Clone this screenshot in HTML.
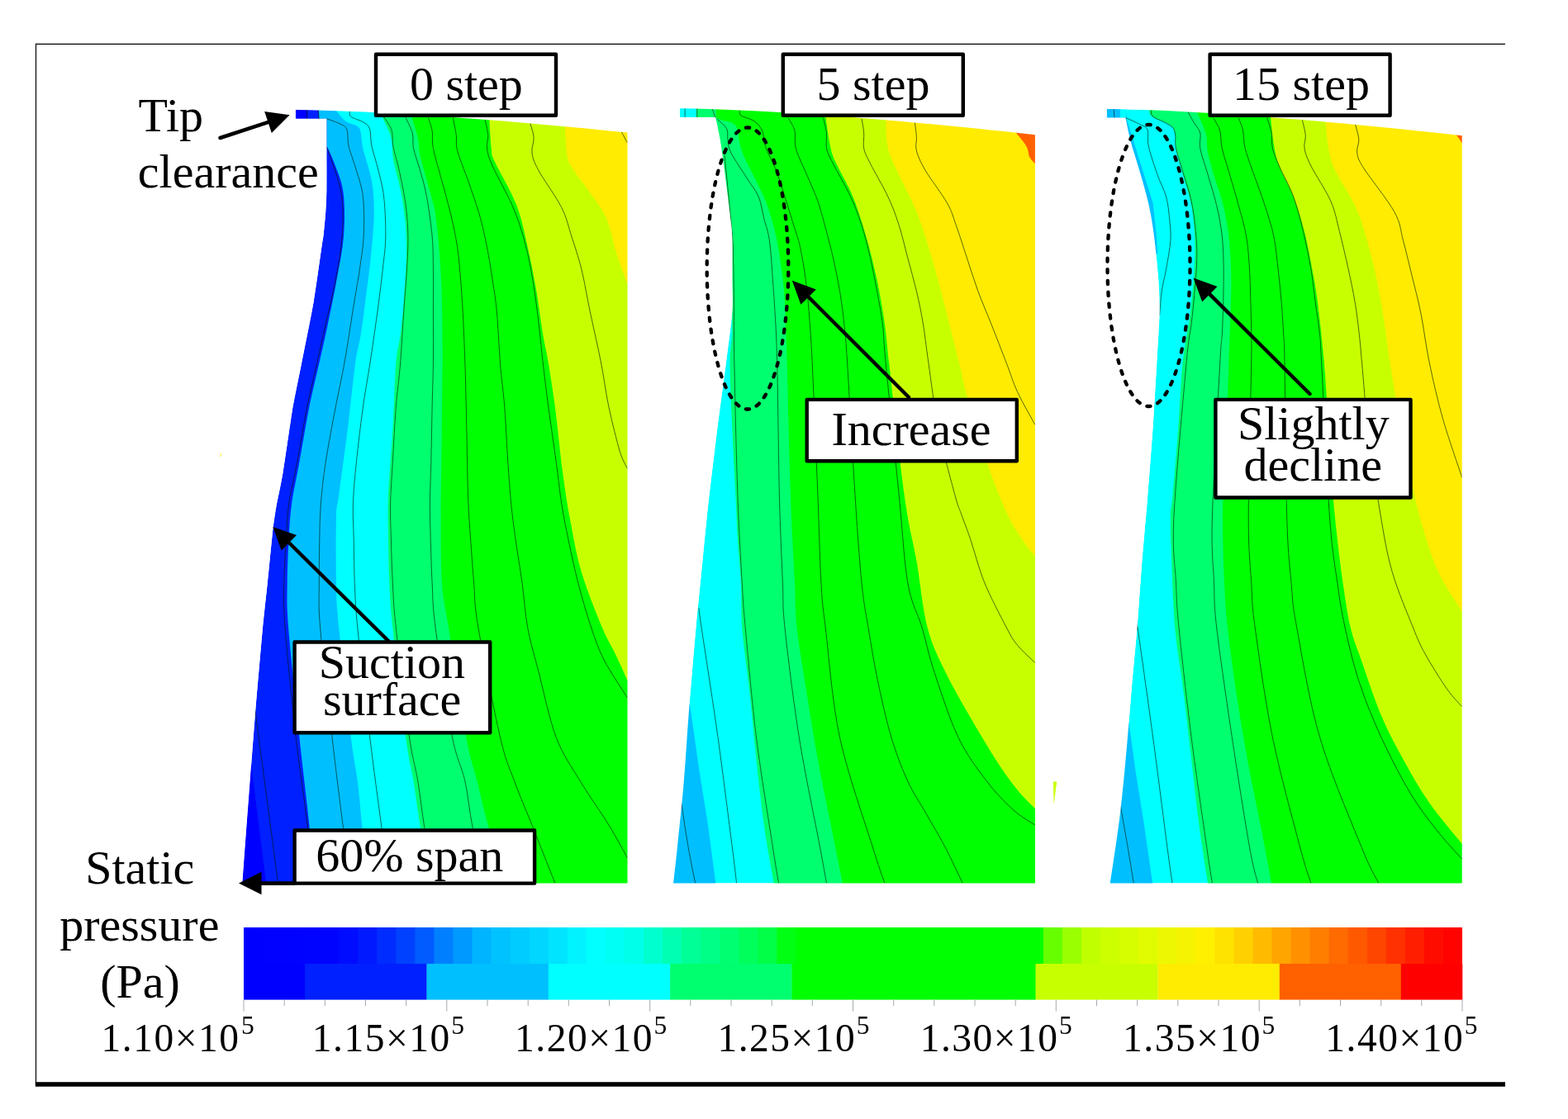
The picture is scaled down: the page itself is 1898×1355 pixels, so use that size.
<!DOCTYPE html>
<html lang="en"><head><meta charset="utf-8"><title>Static pressure contours</title>
<style>
html,body{margin:0;padding:0;background:#fff;}
body{width:1898px;height:1355px;overflow:hidden;position:relative;}
svg{position:absolute;left:0;top:0;display:block;}
text{font-family:"Liberation Serif", "DejaVu Serif", serif;fill:#000;}
.t57{font-size:58px;}
.t47{font-size:47.5px;letter-spacing:1.5px;}
.sup{font-size:31.5px;}
.box{fill:#fff;stroke:#000;stroke-width:4.4;stroke-linejoin:round;}
.arr{stroke:#000;stroke-width:4.4;stroke-linecap:round;fill:none;}
.ell{fill:none;stroke:#000;stroke-width:4.3;stroke-linecap:round;}
.iso{fill:none;stroke:#001a00;stroke-width:0.8;stroke-opacity:0.8;}
</style></head><body>
<svg width="1898" height="1355" viewBox="0 0 1898 1355">
<defs>
<mask id="c_p1" maskUnits="userSpaceOnUse" x="0" y="0" width="1898" height="1355"><path d="M357.8 133L374.5 133.2L391.3 133.7L408 134.2L424.8 134.9L441.5 135.6L458.2 136.4L475 137.3L491.7 138.3L508.4 139.3L525.2 140.4L541.9 141.6L558.6 142.8L575.4 144L592.1 145.3L608.9 146.6L625.6 148L642.3 149.5L659.1 150.9L675.8 152.4L692.5 154L709.3 155.6L726 157.2L742.8 158.9L759.5 160.6L759.5 1069.5L293.3 1069.5C293.8 1062.2 294.9 1046.3 296.5 1025.7C298.1 1005.1 300.4 974.8 302.6 946C304.8 917.2 307.2 884 309.8 853C312.4 822 315.7 784.5 318 760C320.3 735.5 321.7 725.8 323.8 705.7C325.9 685.6 328.7 654.8 330.5 639.3C332.3 623.8 332.5 623.8 334.5 612.7C336.5 601.6 339.1 592.7 342.4 572.8C345.7 552.9 350.6 515.2 354.4 493.1C358.2 471 360.8 461.2 365 440C369.2 418.8 375.6 389 379.6 365.7C383.6 342.4 387.2 313.7 389.2 300.1C391.2 286.6 390.8 291.6 391.6 284.4C392.4 277.2 393.6 265.7 394.2 256.7C394.8 247.7 395.1 249 395.3 230.2C395.5 211.4 395.3 158.2 395.3 143.8L395.6 143.8L357.8 143.8Z" fill="#fff"/></mask>
<mask id="c_p2" maskUnits="userSpaceOnUse" x="0" y="0" width="1898" height="1355"><path d="M823 131.3L840.9 131.6L858.8 132.1L876.7 132.7L894.6 133.5L912.6 134.3L930.5 135.3L948.4 136.3L966.3 137.4L984.2 138.6L1002.1 139.9L1020 141.2L1038 142.6L1055.9 144L1073.8 145.5L1091.7 147.1L1109.6 148.7L1127.5 150.3L1145.4 152L1163.3 153.8L1181.2 155.6L1199.2 157.4L1217.1 159.3L1235 161.2L1252.9 163.2L1252.9 1069.5L815.1 1069.5C815.9 1062.2 817.8 1046.3 819.9 1025.7C822 1005.1 825.4 974.8 827.8 946C830.2 917.2 832.1 884 834.5 853C836.9 822 839.8 789 842.4 760C845 731 848 703.6 850.4 679.1C852.8 654.6 854 639.3 857 612.7C860 586.1 864.6 548.5 868.2 519.7C871.8 490.9 875.8 463.4 878.8 440C881.8 416.6 885 395.8 886.3 379C887.6 362.2 886.5 354.6 886.5 339.1C886.5 323.6 886.8 299.3 886.3 286C885.8 272.7 885.1 272.7 883.6 259.4C882.1 246.1 879 221.4 877 206.3C875 191.2 873.5 179.7 871.7 169.1C869.9 158.5 867.2 146.9 866.3 142.5L866.3 142L823 142Z" fill="#fff"/></mask>
<mask id="c_p3" maskUnits="userSpaceOnUse" x="0" y="0" width="1898" height="1355"><path d="M1339.9 131.9L1357.8 132.2L1375.7 132.7L1393.6 133.3L1411.5 134.1L1429.4 135L1447.4 136L1465.3 137L1483.2 138.1L1501.1 139.3L1519 140.6L1536.9 142L1554.8 143.4L1572.7 144.8L1590.6 146.3L1608.5 147.9L1626.4 149.5L1644.3 151.2L1662.2 152.9L1680.2 154.7L1698.1 156.5L1716 158.4L1733.9 160.3L1751.8 162.3L1769.7 164.3L1769.7 1069.5L1343.8 1069.5C1345.8 1055.5 1352.5 1013 1355.8 985.8C1359.1 958.6 1361.4 932.7 1363.8 906.1C1366.2 879.5 1368.3 850.8 1370.4 826.4C1372.5 802 1374.5 784.5 1376.5 760C1378.5 735.5 1380.5 703.6 1382.4 679.1C1384.4 654.6 1386 639.3 1388.2 612.7C1390.4 586.1 1393.4 548.5 1395.4 519.7C1397.4 490.9 1398.8 463.4 1400.2 440C1401.6 416.6 1403.2 395.8 1403.6 379C1403.9 362.2 1403.4 354.6 1402.3 339.1C1401.2 323.6 1399 301.5 1397 286C1395 270.5 1393.1 259.4 1390.1 246.1C1387.1 232.8 1382.8 218.7 1379.2 206.3C1375.7 193.9 1371.6 182.3 1368.8 171.7C1366 161.1 1363.5 147.4 1362.4 142.5L1362.4 142.5L1339.9 142.5Z" fill="#fff"/></mask>
<linearGradient id="cb" gradientUnits="userSpaceOnUse" x1="295" y1="0" x2="1770" y2="0">
<stop offset="0.0000" stop-color="#0000ff"/>
<stop offset="0.0759" stop-color="#0004ff"/>
<stop offset="0.0929" stop-color="#0012ff"/>
<stop offset="0.1092" stop-color="#0020ff"/>
<stop offset="0.1200" stop-color="#0030ff"/>
<stop offset="0.1376" stop-color="#0048ff"/>
<stop offset="0.1505" stop-color="#0060ff"/>
<stop offset="0.1641" stop-color="#0080ff"/>
<stop offset="0.1783" stop-color="#0098ff"/>
<stop offset="0.1919" stop-color="#00b0ff"/>
<stop offset="0.2068" stop-color="#00c0ff"/>
<stop offset="0.2339" stop-color="#00d0ff"/>
<stop offset="0.2502" stop-color="#00dcff"/>
<stop offset="0.2692" stop-color="#00f0ff"/>
<stop offset="0.2881" stop-color="#00ffff"/>
<stop offset="0.3234" stop-color="#00ffe8"/>
<stop offset="0.3356" stop-color="#00ffd0"/>
<stop offset="0.3627" stop-color="#00ff9c"/>
<stop offset="0.3824" stop-color="#00ff88"/>
<stop offset="0.4102" stop-color="#00ff60"/>
<stop offset="0.4339" stop-color="#00ff40"/>
<stop offset="0.4502" stop-color="#00ff00"/>
<stop offset="0.6502" stop-color="#00ff00"/>
<stop offset="0.6542" stop-color="#40ff00"/>
<stop offset="0.6644" stop-color="#68ff00"/>
<stop offset="0.6814" stop-color="#a0ff00"/>
<stop offset="0.6949" stop-color="#c0ff00"/>
<stop offset="0.7220" stop-color="#d4ff00"/>
<stop offset="0.7444" stop-color="#e4fc00"/>
<stop offset="0.7695" stop-color="#f4f400"/>
<stop offset="0.7898" stop-color="#fff000"/>
<stop offset="0.8088" stop-color="#ffe000"/>
<stop offset="0.8210" stop-color="#ffd000"/>
<stop offset="0.8407" stop-color="#ffb400"/>
<stop offset="0.8610" stop-color="#ff9800"/>
<stop offset="0.8814" stop-color="#ff8000"/>
<stop offset="0.9037" stop-color="#ff6400"/>
<stop offset="0.9254" stop-color="#ff4c00"/>
<stop offset="0.9431" stop-color="#ff3400"/>
<stop offset="0.9627" stop-color="#ff1c00"/>
<stop offset="0.9797" stop-color="#ff0800"/>
<stop offset="1.0000" stop-color="#ff0000"/>
</linearGradient>
</defs>
<rect x="0" y="0" width="1898" height="1355" fill="#fff"/>
<line x1="43" y1="53.4" x2="1822" y2="53.4" stroke="#000" stroke-width="1.1"/>
<line x1="43.5" y1="52.8" x2="43.5" y2="1313" stroke="#000" stroke-width="1.2"/>
<line x1="42.8" y1="1313" x2="1822" y2="1313" stroke="#000" stroke-width="5.4"/>
<g mask="url(#c_p1)">
<polygon points="357.8,133 374.5,133.2 391.3,133.7 408,134.2 424.8,134.9 441.5,135.6 458.2,136.4 475,137.3 491.7,138.3 508.4,139.3 525.2,140.4 541.9,141.6 558.6,142.8 575.4,144 592.1,145.3 608.9,146.6 625.6,148 642.3,149.5 659.1,150.9 675.8,152.4 692.5,154 709.3,155.6 726,157.2 742.8,158.9 759.5,160.6 759.5,1069.5 293.3,1069.5 296.5,1025.7 302.6,946 309.8,853 318,760 323.8,705.7 330.5,639.3 334.5,612.7 342.4,572.8 354.4,493.1 365,440 379.6,365.7 389.2,300.1 391.6,284.4 394.2,256.7 395.3,230.2 395.3,143.8 395.3,143.8 395.6,143.8 357.8,143.8" fill="#0020ff"/>
<polygon points="293,1075 303.9,923.6 322.8,1075" fill="#0000ff"/>
<path d="M395.6 177C397.2 180.6 401.6 189 404.9 198.3C408.2 207.6 413.6 218.2 415.5 232.8C417.4 247.4 417.3 268.3 416 286C414.7 303.7 410.7 321.4 407.5 339.1C404.3 356.8 400.4 375.4 396.9 392.2C393.4 409 390.1 423.2 386.3 440C382.5 456.8 378.3 473.2 374.3 493.1C370.3 513 365.9 540.1 362.4 559.6C358.9 579.1 355.2 594.5 353.1 610C351 625.5 350.5 636.5 349.6 652.5C348.7 668.5 347.8 687.8 347.7 705.7C347.6 723.6 346.7 728.8 349.1 760C351.6 791.2 358.2 852.9 362.4 892.8C366.6 932.6 371.4 969.6 374.3 999.1C377.2 1028.5 378.7 1057.8 379.6 1069.5L379.6 1089.5L779.5 1089.5L779.5 93L395.6 93Z" fill="#00bfff"/>
<path d="M406.2 133.2C408.2 135.4 413.8 143.2 418.2 146.5C422.6 149.8 429.7 150.7 432.8 153.1C435.9 155.5 435.6 156.7 436.7 161.1C437.8 165.5 437.2 169.9 439.4 179.7C441.6 189.4 447.8 206.3 450 219.6C452.2 232.9 452.9 243.9 452.7 259.4C452.5 274.9 450.5 294.8 448.7 312.5C446.9 330.2 444.1 350.2 442.1 365.7C440.1 381.2 438.7 393.1 436.7 405.5C434.7 417.9 432.8 421 430.1 440C427.5 459 424.1 493.1 420.8 519.7C417.5 546.3 412.5 581.7 410.2 599.4C407.9 617.1 407.5 608.3 407 626C406.5 643.7 406.5 683.4 407 705.7C407.5 728 407.2 728.8 410.2 760C413.2 791.2 421 861.8 424.8 892.8C428.6 923.8 430.6 928.3 432.8 946C435 963.7 436.3 978.5 438.1 999.1C439.9 1019.7 442.5 1057.8 443.4 1069.5L443.4 1089.5L779.5 1089.5L779.5 93L406.2 93Z" fill="#00ffff"/>
<path d="M460.7 137.2C462.8 142.1 470.8 157.1 473.4 166.4C476 175.7 474.1 181.9 476.1 193C478.1 204.1 482.9 219.5 485.4 232.8C487.9 246.1 489.8 259.4 490.9 272.7C491.9 286 492.1 297 491.7 312.5C491.3 328 489.8 350.2 488.6 365.7C487.4 381.2 486.2 393.1 484.6 405.5C483.1 417.9 480.9 421 479.3 440C477.8 459 476.9 493.1 475.3 519.7C473.8 546.3 470.9 577.3 470 599.4C469.1 621.5 469.8 634.8 470 652.5C470.2 670.2 470.4 687.8 471.3 705.7C472.2 723.6 472 728.8 475.3 760C478.6 791.2 487 861.8 491.2 892.8C495.4 923.8 497.6 928.3 500.5 946C503.4 963.7 505.2 978.5 508.5 999.1C511.8 1019.7 518.4 1057.8 520.4 1069.5L520.4 1089.5L779.5 1089.5L779.5 93L460.7 93Z" fill="#00ff6e"/>
<path d="M497.9 139.9C499.2 144.3 504 158.4 505.8 166.4C507.6 174.4 506.3 177.5 508.5 187.7C510.7 197.9 516 215.6 519.1 227.5C522.2 239.4 524.9 245.2 527.1 259.4C529.3 273.6 531.1 294.8 532.4 312.5C533.7 330.2 534.5 344.4 535 365.7C535.5 386.9 535.7 409.9 535.6 440C535.5 470.1 534.8 515.3 534.5 546.3C534.2 577.3 533.6 599.4 533.7 626C533.8 652.6 533.5 683.4 535 705.7C536.5 728 538.1 728.8 543 760C547.9 791.2 558.5 861.8 564.3 892.8C570.1 923.8 573.2 928.3 577.6 946C582 963.7 585 978.5 590.8 999.1C596.5 1019.7 608.5 1057.8 612.1 1069.5L612.1 1089.5L779.5 1089.5L779.5 93L497.9 93Z" fill="#00ff00"/>
<path d="M592.2 142.5C592.6 148.7 593.7 170.8 594.8 179.7C595.9 188.5 593.7 184.1 598.8 195.6C603.9 207.1 618.8 231.5 625.4 248.8C632 266.1 634.7 282 638.7 299.3C642.7 316.6 646.2 334.7 649.3 352.4C652.4 370.1 654.9 390.9 657.3 405.5C659.7 420.1 661.5 425.4 663.9 440C666.3 454.6 669 471 671.9 493.1C674.8 515.2 678.1 549.8 681.2 572.8C684.3 595.8 686.7 611.4 690.5 631.3C694.3 651.2 697.4 670.9 703.8 692.4C710.2 713.9 722.1 743.4 729 760C735.9 776.6 739.8 781.3 744.9 791.9C750 802.5 757.1 818.5 759.5 823.8L779.5 823.8L779.5 93L592.2 93Z" fill="#c8ff00"/>
<path d="M683.8 150.5C684.2 156.7 684.7 178.4 686.5 187.7C688.3 197 687 194.4 694.5 206.3C702 218.2 723.1 243 731.6 259.4C740.1 275.8 741.3 291.7 745.5 304.6C749.7 317.5 754.6 330.6 756.9 337C759.2 343.4 759.1 342.1 759.5 343.1L779.5 343.1L779.5 93L683.8 93Z" fill="#ffec00"/>
<rect x="357.8" y="130.2" width="14.9" height="13.6" fill="#0000ff"/>
<rect x="372.2" y="130.2" width="14.3" height="13.6" fill="#0020ff"/>
<rect x="386" y="130.2" width="10.1" height="13.6" fill="#00bfff"/>
<path class="iso" d="M307.9 853C312.7 889.1 331.8 1033.4 336.6 1069.5"/>
<path class="iso" d="M395.8 178.4C398.6 187.5 409.7 214.9 412.8 232.8C415.9 250.7 415.3 268.3 414.2 286C413.1 303.7 409.5 321.4 406.2 339.1C402.9 356.8 398 375.4 394.2 392.2C390.4 409 387.4 423.2 383.6 440C379.9 456.8 375.7 473.2 371.7 493.1C367.7 513 363.4 540.1 359.7 559.6C356 579.1 351.8 594.5 349.6 610C347.4 625.5 347.4 636.5 346.4 652.5C345.4 668.5 344 687.8 343.8 705.7C343.6 723.6 342.8 729.6 345.1 760C347.4 790.4 353 847.4 357.6 887.8C362.2 928.2 369.1 972 372.5 1002.3C375.9 1032.6 377.3 1058.3 378.3 1069.5"/>
<path class="iso" d="M395.6 143.8C398.5 144.9 408.7 148.3 412.8 150.5C416.9 152.7 418.4 152.7 420 157.1C421.6 161.5 420.2 168.8 422.1 177C424 185.2 428.5 196.1 431.4 206.3C434.3 216.5 437.9 224.9 439.4 238.2C440.9 251.5 440.9 271.4 440.2 286C439.5 300.6 437.3 312.5 435.4 325.8C433.5 339.1 431.9 346.7 428.8 365.7C425.7 384.7 420.6 418.8 416.8 440C413 461.2 410 473.2 406.2 493.1C402.4 513 397.2 540.1 394.2 559.6C391.2 579.1 389.6 594.5 388.4 610C387.2 625.5 387.1 636.5 386.8 652.5C386.5 668.5 386.2 687.8 386.3 705.7C386.4 723.6 385 729.2 387.6 760C390.2 790.8 397.1 849.8 401.7 890.2C406.3 930.6 411.6 972.4 415.5 1002.3C419.4 1032.2 423.2 1058.3 424.8 1069.5"/>
<path class="iso" d="M423.5 134.5C423.7 135.6 422.2 139 424.8 141.2C427.4 143.4 435.6 145.4 439.4 147.8C443.2 150.2 445.6 150.9 447.4 155.8C449.2 160.7 448.2 168.6 450 177C451.8 185.4 455.6 196.1 458 206.3C460.4 216.5 463.1 224.9 464.6 238.2C466.1 251.5 467 271.4 466.8 286C466.6 300.6 465 310.3 463.3 325.8C461.6 341.3 459.3 360 456.7 379C454.1 398 450.8 421 447.9 440C445 459 442.1 473.2 439.4 493.1C436.6 513 433.4 540.1 431.4 559.6C429.4 579.1 427.9 594.5 427.4 610C426.9 625.5 427.9 636.5 428.2 652.5C428.5 668.5 428.5 687.8 429.3 705.7C430.1 723.6 429.8 729.2 432.8 760C435.8 790.8 442.5 849.8 447.4 890.2C452.3 930.6 458 972.4 462 1002.3C466 1032.2 469.8 1058.3 471.3 1069.5"/>
<path class="iso" d="M463.3 139.9C465.1 142.8 471.8 150.9 473.9 157.1C476 163.3 474.2 168.8 475.8 177C477.4 185.2 480.6 194.3 483.2 206.3C485.8 218.3 489.4 235.5 491.2 248.8C493 262.1 493.7 273.2 493.9 286C494.1 298.8 493.4 310.3 492.5 325.8C491.6 341.3 489.9 360 488.6 379C487.3 398 486.2 421 484.6 440C483.1 459 480.9 473.2 479.3 493.1C477.8 513 476.4 540.1 475.3 559.6C474.2 579.1 472.9 594.5 472.6 610C472.3 625.5 472.9 636.5 473.4 652.5C473.8 668.5 474.3 687.8 475.3 705.7C476.3 723.6 476 729.2 479.3 760C482.6 790.8 490.8 859.2 495.2 890.2C499.6 921.2 502.7 927.3 505.8 946C508.9 964.7 510.5 981.7 513.8 1002.3C517.1 1022.9 523.7 1058.3 525.7 1069.5"/>
<path class="iso" d="M489.9 139.9C491.4 143.4 497.4 154.5 499.2 161.1C501 167.7 498.9 172.2 500.5 179.7C502.1 187.2 505.8 196.6 508.5 206.3C511.2 216.1 514.1 224.9 516.5 238.2C518.9 251.5 521.8 271.4 523.1 286C524.4 300.6 524.2 310.3 524.4 325.8C524.6 341.3 524.4 360 524.4 379C524.4 398 524.6 421 524.4 440C524.2 459 523.5 473.2 523.1 493.1C522.7 513 522.2 540.1 521.8 559.6C521.3 579.1 520.5 594.5 520.4 610C520.3 625.5 520.8 636.5 521.2 652.5C521.7 668.5 522.1 687.8 523.1 705.7C524.1 723.6 523.1 729.2 527.1 760C531.1 790.8 541 859.2 547 890.2C553 921.2 558.7 927.3 562.9 946C567.1 964.7 567.8 981.7 572.2 1002.3C576.6 1022.9 586.6 1058.3 589.5 1069.5"/>
<path class="iso" d="M517.8 141.2C518.7 144.1 522 152 523.1 158.4C524.2 164.8 522.4 169.5 524.4 179.7C526.4 189.9 531.5 206.3 535 219.6C538.5 232.9 542.6 246.1 545.7 259.4C548.8 272.7 551.6 286 553.6 299.3C555.6 312.6 556.5 325.8 557.6 339.1C558.7 352.4 559.4 362.2 560.3 379C561.2 395.8 562.2 421 562.9 440C563.6 459 563.8 473.2 564.3 493.1C564.8 513 565.2 540.1 565.6 559.6C566 579.1 566.2 594.5 566.9 610C567.6 625.5 568.5 636.5 569.6 652.5C570.7 668.5 572.1 687.8 573.6 705.7C575.1 723.6 573.6 728.8 578.9 760C584.2 791.2 598.2 861.8 605.5 892.8C612.8 923.8 616.3 928.3 622.7 946C629.1 963.7 635.8 978.5 644 999.1C652.2 1019.7 667.2 1057.8 671.9 1069.5"/>
<path class="iso" d="M548.3 142.5C549 146.1 551.4 157.2 552.3 163.8C553.2 170.5 551.2 173.1 553.6 182.4C556 191.7 562.5 206.8 566.9 219.6C571.3 232.4 576.4 246.1 580.2 259.4C584 272.7 586.8 286 589.5 299.3C592.2 312.6 594.2 325.8 596.2 339.1C598.2 352.4 600 362.2 601.5 379C603 395.8 604 421 605.5 440C607 459 609.2 473.2 610.8 493.1C612.3 513 613.5 540.1 614.8 559.6C616.1 579.1 617.2 594.5 618.7 610C620.2 625.5 621.8 636.5 624 652.5C626.2 668.5 629.5 687.8 632 705.7C634.5 723.6 635.4 742.1 638.7 760C642 777.9 646.1 791 651.9 813.1C657.6 835.2 664.8 870.6 673.2 892.8C681.6 914.9 691.8 928.3 702.4 946C713 963.7 727.5 983.6 737 999.1C746.5 1014.6 755.8 1032.3 759.5 1039"/>
<path class="iso" d="M586.9 143.8C587.5 147.1 590.4 157.8 590.8 163.8C591.2 169.8 588.6 173.5 589.5 179.7C590.4 185.9 591.1 189.5 596.2 201C601.3 212.5 613.9 234.6 620.1 248.8C626.3 263 629.5 273.2 633.3 286C637 298.8 639.7 310.3 642.6 325.8C645.5 341.3 648.2 360 650.6 379C653 398 655.1 421 657.3 440C659.5 459 661.2 473.2 663.9 493.1C666.5 513 670.6 540.1 673.2 559.6C675.9 579.1 677.4 594.5 679.8 610C682.2 625.5 684.5 636.5 687.8 652.5C691.1 668.5 695.1 687.8 699.8 705.7C704.4 723.6 710.4 744.3 715.7 760C721 775.7 724.3 785.7 731.6 799.9C738.9 814.1 754.9 837.5 759.5 845"/>
<path class="iso" d="M641.3 147.8C642.1 150.9 645.6 160.2 646.1 166.4C646.6 172.6 643 178.3 644 185C645 191.7 645.9 195.2 651.9 206.3C657.9 217.4 673.1 238.1 679.8 251.4C686.4 264.7 687.8 273.6 691.8 286C695.8 298.4 700 310.3 703.8 325.8C707.6 341.3 710.6 360 714.6 379C718.6 398 724 421 727.7 440C731.4 459 733.2 475.4 737 493.1C740.8 510.8 746.5 533.9 750.2 546.3C754 558.7 758 564 759.5 567.5"/>
<path class="iso" d="M751.6 158.4C752.9 160.8 758.2 170.7 759.5 173.1"/>
<path class="iso" d="M371.7 129.2C371.7 131.9 371.7 142.5 371.7 145.2"/>
<path class="iso" d="M384.9 129.2C385.1 131.9 386.1 142.5 386.3 145.2"/>
</g>
<g mask="url(#c_p2)">
<polygon points="823,131.3 840.9,131.6 858.8,132.1 876.7,132.7 894.6,133.5 912.6,134.3 930.5,135.3 948.4,136.3 966.3,137.4 984.2,138.6 1002.1,139.9 1020,141.2 1038,142.6 1055.9,144 1073.8,145.5 1091.7,147.1 1109.6,148.7 1127.5,150.3 1145.4,152 1163.3,153.8 1181.2,155.6 1199.2,157.4 1217.1,159.3 1235,161.2 1252.9,163.2 1252.9,1069.5 815.1,1069.5 819.9,1025.7 827.8,946 834.5,853 842.4,760 850.4,679.1 857,612.7 868.2,519.7 878.8,440 886.3,379 886.5,339.1 886.3,286 883.6,259.4 877,206.3 871.7,169.1 866.3,142.5 866.3,142 823,142" fill="#00ffff"/>
<polygon points="800,850 835,853 846.4,932.7 857,999.1 866.3,1069.5 866.3,1080 800,1080" fill="#00bfff"/>
<path d="M862.4 126.6C865.5 153.2 877 241.7 881 286C885 330.3 885.9 366.5 886.3 392.2C886.7 417.9 883.6 418.8 883.6 440C883.6 461.2 885.2 493.1 886.3 519.7C887.4 546.3 889.2 577.3 890.3 599.4C891.4 621.5 891.8 634.8 892.9 652.5C894 670.2 896 687.8 896.9 705.7C897.8 723.6 896.4 737.7 898.2 760C900 782.3 904.6 813.1 907.5 839.7C910.4 866.3 912.6 892.8 915.5 919.4C918.4 946 921.3 974.1 924.8 999.1C928.3 1024.1 934.7 1057.8 936.7 1069.5L936.7 1089.5L1272.9 1089.5L1272.9 91.3L862.4 91.3Z" fill="#00ff6e"/>
<path d="M865 129.2C865.5 131.4 864.2 139.2 867.7 142.5C871.2 145.8 882.1 146.7 886.3 149.1C890.5 151.5 891.3 152.9 892.9 157.1C894.5 161.3 894 168.4 895.6 174.4C897.2 180.4 898.4 184.6 902.2 193C906 201.4 913.8 215.6 918.2 224.9C922.6 234.2 925.3 238.6 928.8 248.8C932.3 259 936.5 273.2 939.4 286C942.3 298.8 944.2 312.5 946 325.8C947.8 339.1 948.9 346.7 950 365.7C951.1 384.7 951.8 409.9 952.7 440C953.6 470.1 954.4 515.3 955.3 546.3C956.2 577.3 956.9 599.4 958 626C959.1 652.6 960.9 683.4 962 705.7C963.1 728 962.2 737.7 964.6 760C967 782.3 972.4 813.1 976.6 839.7C980.8 866.3 985 892.8 989.9 919.4C994.8 946 1000.8 974.1 1005.8 999.1C1010.8 1024.1 1017.5 1057.8 1019.9 1069.5L1019.9 1089.5L1272.9 1089.5L1272.9 91.3L865 91.3Z" fill="#00ff00"/>
<path d="M999.2 139.9C1000.1 145.7 1002.5 165.1 1004.5 174.4C1006.5 183.7 1006.5 185 1011.1 195.6C1015.8 206.2 1026.2 223.1 1032.4 238.2C1038.6 253.3 1043.4 269.2 1048.3 286C1053.2 302.8 1057.8 321.4 1061.6 339.1C1065.4 356.8 1068.5 375.4 1070.9 392.2C1073.3 409 1073.1 412.1 1076.2 440C1079.3 467.9 1085.7 528.6 1089.5 559.6C1093.3 590.6 1095.5 606.1 1098.8 626C1102.1 645.9 1105.4 656.8 1109.4 679.1C1113.4 701.4 1116.9 737.7 1122.7 760C1128.5 782.3 1135.6 795.4 1144 813.1C1152.4 830.8 1163 848.6 1173.2 866.3C1183.4 884 1195.4 904.3 1205.1 919.4C1214.8 934.5 1223.6 946.6 1231.6 956.6C1239.6 966.6 1249.4 975.4 1252.9 979.2L1272.9 979.2L1272.9 91.3L999.2 91.3Z" fill="#c8ff00"/>
<path d="M1072.2 143.8C1072.7 149.8 1072.2 168.4 1074.9 179.7C1077.6 191 1082.2 198.3 1088.2 211.6C1094.2 224.9 1104.2 242.6 1110.8 259.4C1117.4 276.2 1122.7 294.8 1128 312.5C1133.3 330.2 1136.9 344.4 1142.4 365.7C1147.9 386.9 1156.5 421 1161.2 440C1165.9 459 1165 460 1170.5 479.9C1176 499.8 1186.5 536.1 1194.5 559.6C1202.5 583.1 1211.3 605.2 1218.4 620.7C1225.5 636.2 1231.2 643.6 1237 652.5C1242.8 661.4 1250.2 670.2 1252.9 673.8L1272.9 673.8L1272.9 91.3L1072.2 91.3Z" fill="#ffec00"/>
<path d="M1229 159.8C1231.2 162.7 1239.4 171.9 1242.3 177C1245.2 182.1 1244.5 186.8 1246.3 190.3C1248.1 193.9 1251.8 197 1252.9 198.3L1272.9 198.3L1272.9 91.3L1229 91.3Z" fill="#ff6000"/>
<rect x="823" y="128.3" width="20.4" height="13.7" fill="#00ffff"/>
<rect x="842.9" y="128.3" width="23.9" height="13.7" fill="#00ff6e"/>
<path class="iso" d="M823.8 965.9C825.3 975.9 830.1 1008.4 833.1 1025.7C836.1 1043 840.2 1062.2 841.6 1069.5"/>
<path class="iso" d="M845.9 736.2C846.4 740.2 845.2 733.9 849.1 760C853 786.1 862.8 848.5 869 892.8C875.2 937.1 882.5 996.2 886.3 1025.7C890.1 1055.2 890.7 1062.2 891.6 1069.5"/>
<path class="iso" d="M877 187.7C878.5 203.6 884.5 262.5 886.3 283.3C888.1 304.1 887.2 298.8 887.6 312.5C888 326.2 888.2 344.4 888.4 365.7C888.6 386.9 888.1 401.1 888.9 440C889.6 478.9 891.3 555.1 892.9 599.4C894.5 643.7 896.7 678.9 898.2 705.7C899.8 732.5 899.3 728.8 902.2 760C905.1 791.2 910 848.5 915.5 892.8C921 937.1 930.9 996.2 935.4 1025.7C939.9 1055.2 941.4 1062.2 942.6 1069.5"/>
<path class="iso" d="M867.7 143.8C869.7 145.8 877.4 151.6 879.6 155.8C881.8 160 880.1 164.2 881 169.1C881.9 174 880.9 177 884.9 185C888.9 193 899.3 208 904.9 216.9C910.5 225.8 914.9 230.2 918.2 238.2C921.5 246.2 922.6 255.8 924.8 264.7C927 273.6 929.6 278.9 931.4 291.3C933.2 303.7 934.3 324.5 935.4 339.1C936.5 353.7 937.2 362.2 938.1 379C939 395.8 939.8 403.3 940.7 440C941.6 476.7 942.3 555.1 943.4 599.4C944.5 643.7 946.3 678.9 947.4 705.7C948.5 732.5 946.7 728.8 950 760C953.3 791.2 960.2 848.5 967.3 892.8C974.4 937.1 987 996.2 992.5 1025.7C998 1055.2 999.2 1062.2 1000.5 1069.5"/>
<path class="iso" d="M895.6 133.2C895.8 134.3 894 137.7 896.9 139.9C899.8 142.1 908.6 143.6 912.8 146.5C917 149.4 920.1 153.3 922.1 157.1C924.1 160.9 923.9 165.3 924.8 169.1C925.7 172.9 925 173.5 927.4 179.7C929.8 185.9 935.6 196.6 939.4 206.3C943.2 216.1 946.5 227.1 950 238.2C953.5 249.3 957.6 262.5 960.7 272.7C963.8 282.9 966.2 288.2 968.6 299.3C971 310.4 973.5 325.8 975.3 339.1C977.1 352.4 978 362.2 979.3 379C980.6 395.8 981.4 403.3 983.2 440C985 476.7 988.1 555.1 989.9 599.4C991.7 643.7 992.3 678.9 993.9 705.7C995.5 732.5 995.4 728.8 999.2 760C1003 791.2 1007 848.5 1016.5 892.8C1026 937.1 1047.2 996.2 1056.3 1025.7C1065.4 1055.2 1068.5 1062.2 1070.9 1069.5"/>
<path class="iso" d="M954 142.5C955.3 145.2 960.5 152.2 962 158.4C963.5 164.6 960.9 170.8 963.3 179.7C965.7 188.6 972.2 201 976.6 211.6C981 222.2 985.9 232 989.9 243.5C993.9 255 997.4 269.2 1000.5 280.7C1003.6 292.2 1005.8 300.6 1008.5 312.5C1011.2 324.4 1014.3 339.1 1016.5 352.4C1018.7 365.7 1020.3 377.6 1021.8 392.2C1023.3 406.8 1023.5 405.5 1025.7 440C1027.9 474.5 1032.1 555.1 1035 599.4C1037.9 643.7 1040.3 678.9 1043 705.7C1045.7 732.5 1047.7 739.9 1051 760C1054.3 780.1 1058.2 804.3 1062.9 826.4C1067.6 848.5 1072.9 872.9 1078.9 892.8C1084.9 912.7 1091.7 930.5 1098.8 946C1105.9 961.5 1113.9 972.5 1121.4 985.8C1128.9 999.1 1136.7 1011.8 1144 1025.7C1151.3 1039.7 1161.7 1062.2 1165.2 1069.5"/>
<path class="iso" d="M996.5 142.5C997.2 145.6 999.8 154.9 1000.5 161.1C1001.2 167.3 999.2 173.5 1000.5 179.7C1001.8 185.9 1003.6 188.6 1008.5 198.3C1013.4 208.1 1024 225.8 1029.7 238.2C1035.5 250.6 1039 260.3 1043 272.7C1047 285.1 1050.5 299.2 1053.6 312.5C1056.7 325.8 1059.1 339.1 1061.6 352.4C1064 365.7 1066.5 377.6 1068.3 392.2C1070.1 406.8 1068.9 405.5 1072.2 440C1075.5 474.5 1083.8 555.1 1088.2 599.4C1092.6 643.7 1094.2 678.9 1098.8 705.7C1103.4 732.5 1110.8 742.1 1116.1 760C1121.4 777.9 1123.4 791 1130.7 813.1C1138 835.2 1149.3 870.6 1159.9 892.8C1170.5 914.9 1183.4 931.4 1194.5 946C1205.6 960.6 1216.6 971.6 1226.3 980.5C1236 989.4 1248.5 996 1252.9 999.1"/>
<path class="iso" d="M1043 143.8C1043.5 146.7 1045.2 155.1 1045.7 161.1C1046.2 167.1 1044.4 173.5 1045.7 179.7C1047 185.9 1048.7 188.6 1053.6 198.3C1058.5 208.1 1069.1 225.8 1074.9 238.2C1080.7 250.6 1084.2 260.3 1088.2 272.7C1092.2 285.1 1095.3 299.2 1098.8 312.5C1102.3 325.8 1106.3 339.1 1109.4 352.4C1112.5 365.7 1115 377.6 1117.4 392.2C1119.8 406.8 1120.9 418.8 1124 440C1127.1 461.2 1130.7 493.1 1136 519.7C1141.3 546.3 1151.2 582.1 1155.9 599.4C1160.6 616.7 1160.8 614.4 1163.9 623.3C1167 632.1 1169.8 638.8 1174.5 652.5C1179.2 666.2 1184.5 687.8 1191.8 705.7C1199.1 723.6 1211.8 747.4 1218.4 760C1225 772.6 1225.8 774.2 1231.6 781.3C1237.3 788.4 1249.4 799 1252.9 802.5"/>
<path class="iso" d="M1107.3 147.8C1107.7 150.9 1109.1 160.6 1109.4 166.4C1109.8 172.2 1107.6 175.8 1109.4 182.4C1111.2 189.1 1113.9 195.7 1120.1 206.3C1126.3 216.9 1140.4 235 1146.6 246.1C1152.8 257.2 1153.3 261.6 1157.3 272.7C1161.3 283.8 1166.1 299.2 1170.5 312.5C1174.9 325.8 1178.9 339.1 1183.8 352.4C1188.7 365.7 1194 377.6 1199.8 392.2C1205.6 406.8 1213.1 426.3 1218.4 440C1223.7 453.7 1225.8 462.1 1231.6 474.5C1237.3 486.9 1249.4 507.8 1252.9 514.4"/>
<path class="iso" d="M829.1 127.9C829.1 130.6 829.1 141.2 829.1 143.8"/>
<path class="iso" d="M843.8 127.9C843.8 130.6 843.8 141.2 843.8 143.8"/>
<path class="iso" d="M861 127.9C861.9 130.6 865.4 141.2 866.3 143.8"/>
</g>
<g mask="url(#c_p3)">
<polygon points="1339.9,131.9 1357.8,132.2 1375.7,132.7 1393.6,133.3 1411.5,134.1 1429.4,135 1447.4,136 1465.3,137 1483.2,138.1 1501.1,139.3 1519,140.6 1536.9,142 1554.8,143.4 1572.7,144.8 1590.6,146.3 1608.5,147.9 1626.4,149.5 1644.3,151.2 1662.2,152.9 1680.2,154.7 1698.1,156.5 1716,158.4 1733.9,160.3 1751.8,162.3 1769.7,164.3 1769.7,1069.5 1343.8,1069.5 1355.8,985.8 1363.8,906.1 1370.4,826.4 1376.5,760 1382.4,679.1 1388.2,612.7 1395.4,519.7 1400.2,440 1403.6,379 1402.3,339.1 1397,286 1390.1,246.1 1379.2,206.3 1368.8,171.7 1362.4,142.5 1362.4,142.5 1339.9,142.5" fill="#00ffff"/>
<polygon points="1320,870 1366.4,874.2 1374.4,932.7 1385,999.1 1395.1,1069.5 1395,1080 1320,1080" fill="#00bfff"/>
<polygon points="1330,120 1362.4,129.2 1363.8,143.8 1372.3,171.7 1383.2,206.3 1395.6,246.1 1399.9,286 1401.2,307.2 1390.3,307.2" fill="#00bfff"/>
<path d="M1390.3 129.2C1390.8 131 1390.3 137 1393 139.9C1395.7 142.8 1402.1 144.3 1406.3 146.5C1410.5 148.7 1415.5 150.2 1418.2 153.1C1420.9 156 1421.8 159.4 1422.7 163.8C1423.6 168.2 1421.8 171.3 1423.5 179.7C1425.2 188.1 1429.7 202.7 1432.8 214.2C1435.9 225.7 1439.9 236.8 1442.1 248.8C1444.3 260.8 1445.5 273.2 1446.1 286C1446.7 298.8 1446.5 310.3 1445.6 325.8C1444.7 341.3 1443.1 360 1440.8 379C1438.5 398 1433.9 416.6 1431.5 440C1429.1 463.4 1428.2 493.1 1426.2 519.7C1424.2 546.3 1421.1 581.7 1419.6 599.4C1418 617.1 1417.1 612.7 1416.9 626C1416.7 639.3 1417.3 656.8 1418.2 679.1C1419.1 701.4 1419.8 733.2 1422.2 760C1424.6 786.8 1429.5 813.1 1432.8 839.7C1436.1 866.3 1439 892.8 1442.1 919.4C1445.2 946 1448.1 974.1 1451.4 999.1C1454.7 1024.1 1460.3 1057.8 1462.1 1069.5L1462.1 1089.5L1789.7 1089.5L1789.7 91.9L1390.3 91.9Z" fill="#00ff6e"/>
<path d="M1447.4 131.9C1449.4 136.8 1457 152.2 1459.4 161.1C1461.9 169.9 1460.3 176.2 1462.1 185C1463.9 193.8 1466.9 203.6 1470 214.2C1473.1 224.8 1477.8 236.8 1480.7 248.8C1483.6 260.8 1485.8 273.2 1487.3 286C1488.8 298.8 1489.5 312.5 1490 325.8C1490.5 339.1 1490.5 346.7 1490 365.7C1489.5 384.7 1488.2 414.3 1487.3 440C1486.4 465.7 1485.7 493.1 1484.6 519.7C1483.5 546.3 1481.5 579.5 1480.7 599.4C1480 619.3 1479.9 621.6 1480.1 639.3C1480.3 657 1481 685.6 1482 705.7C1483 725.8 1483.6 737.7 1486 760C1488.4 782.3 1492.6 813.1 1496.6 839.7C1500.6 866.3 1505 892.8 1509.9 919.4C1514.8 946 1520.9 974.1 1525.8 999.1C1530.7 1024.1 1536.9 1057.8 1539.1 1069.5L1539.1 1089.5L1789.7 1089.5L1789.7 91.9L1447.4 91.9Z" fill="#00ff00"/>
<path d="M1537.8 139.9C1538.5 145.7 1540 164.2 1541.8 174.4C1543.6 184.6 1544.4 190.4 1548.4 201C1552.4 211.6 1560.6 224.9 1565.7 238.2C1570.8 251.5 1575.2 266.1 1579 280.7C1582.8 295.3 1585.6 311.6 1588.3 325.8C1591 340 1592.5 346.7 1594.9 365.7C1597.3 384.7 1600.7 414.3 1602.9 440C1605.1 465.7 1606.4 493.1 1608.2 519.7C1610 546.3 1611.7 577.3 1613.5 599.4C1615.3 621.5 1616.8 634.8 1618.8 652.5C1620.8 670.2 1622.8 687.8 1625.5 705.7C1628.2 723.6 1631 744.3 1634.8 760C1638.5 775.7 1641.8 782.2 1648 799.9C1654.2 817.6 1663.5 846.4 1671.9 866.3C1680.3 886.2 1688.8 901.7 1698.5 919.4C1708.2 937.1 1718.5 955.5 1730.4 972.5C1742.3 989.5 1763.2 1013.5 1769.7 1021.7L1789.7 1021.7L1789.7 91.9L1537.8 91.9Z" fill="#c8ff00"/>
<path d="M1604.2 142.5C1604.9 148.7 1606.2 169.1 1608.2 179.7C1610.2 190.3 1610.9 194.8 1616.2 206.3C1621.5 217.8 1633.9 235.5 1640.1 248.8C1646.3 262.1 1648.9 270.9 1653.3 286C1657.7 301.1 1662.8 321.4 1666.6 339.1C1670.4 356.8 1673.2 375.4 1675.9 392.2C1678.6 409 1679.3 418.8 1682.6 440C1685.9 461.2 1691.5 495.4 1695.9 519.7C1700.3 544.1 1704.7 566.2 1709.1 586.1C1713.5 606 1717.1 621.6 1722.4 639.3C1727.7 657 1733.1 675.6 1741 692.4C1748.9 709.2 1764.9 732.2 1769.7 740.2L1789.7 740.2L1789.7 91.9L1604.2 91.9Z" fill="#ffec00"/>
<path d="M1762.3 162.4C1763.5 164.2 1768.5 171.3 1769.7 173.1L1789.7 173.1L1789.7 91.9L1762.3 91.9Z" fill="#ff6000"/>
<rect x="1339.9" y="128.9" width="16.4" height="13.6" fill="#00bfff"/>
<rect x="1355.8" y="128.9" width="7.1" height="13.6" fill="#00ffff"/>
<path class="iso" d="M1355.8 972.5C1357.3 981.4 1362.3 1009.5 1365.1 1025.7C1367.8 1041.9 1371.1 1062.2 1372.3 1069.5"/>
<path class="iso" d="M1376.5 762.8C1376.6 762.3 1373.8 738.3 1377 760C1380.2 781.7 1389.6 848.5 1395.6 892.8C1401.6 937.1 1409 996.2 1412.9 1025.7C1416.8 1055.2 1418 1062.2 1419 1069.5"/>
<path class="iso" d="M1362.4 142.5C1365.3 143.8 1375.3 148.1 1379.7 150.5C1384.1 152.9 1387.2 152.7 1389 157.1C1390.8 161.5 1388.3 167.9 1390.3 177C1392.3 186.1 1397.5 201.4 1401 211.6C1404.5 221.8 1409.2 229.3 1411.6 238.2C1414 247 1414.7 255.8 1415.6 264.7C1416.5 273.6 1417.6 281.1 1416.9 291.3C1416.2 301.5 1413.4 315.6 1411.6 325.8C1409.8 336 1407.6 343.1 1406.3 352.4C1405 361.7 1404 376.7 1403.6 381.6"/>
<path class="iso" d="M1393 133.2C1393.4 134.5 1392.9 138.8 1395.6 141.2C1398.2 143.6 1404.9 145.6 1408.9 147.8C1412.9 150 1417.3 151.8 1419.6 154.5C1421.9 157.2 1422 159.6 1422.7 163.8C1423.4 168 1421.8 171.7 1423.5 179.7C1425.2 187.7 1429.7 201 1432.8 211.6C1435.9 222.2 1439.7 232 1442.1 243.5C1444.5 255 1446.3 269.2 1447.4 280.7C1448.5 292.2 1449 300.6 1448.8 312.5C1448.6 324.4 1447.2 339.1 1446.1 352.4C1445 365.7 1443.8 377.6 1442.1 392.2C1440.4 406.8 1439.5 401 1436 440C1432.5 479 1423 581.7 1420.9 626C1418.8 670.3 1422.5 683.4 1423.5 705.7C1424.5 728 1423.9 728.8 1427 760C1430.1 791.2 1436.5 848.5 1442.1 892.8C1447.7 937.1 1456.5 996.2 1460.7 1025.7C1464.9 1055.2 1466.3 1062.2 1467.4 1069.5"/>
<path class="iso" d="M1438.2 135.9C1439.3 137.9 1442.4 143.6 1444.8 147.8C1447.2 152 1451.5 155.8 1452.8 161.1C1454.1 166.4 1451.2 171.3 1452.8 179.7C1454.3 188.1 1458.8 200.1 1462.1 211.6C1465.4 223.1 1469.8 236.4 1472.7 248.8C1475.6 261.2 1477.9 273.2 1479.3 286C1480.7 298.8 1481 312.5 1481.2 325.8C1481.4 339.1 1481 352.4 1480.7 365.7C1480.4 379 1480 393.1 1479.3 405.5C1478.6 417.9 1478.7 403.2 1476.7 440C1474.7 476.8 1468.6 581.7 1467.4 626C1466.2 670.3 1468.6 683.4 1469.5 705.7C1470.4 728 1469.1 728.8 1472.7 760C1476.3 791.2 1484.7 848.5 1491.3 892.8C1497.9 937.1 1507.3 996.2 1512.5 1025.7C1517.7 1055.2 1520.9 1062.2 1522.6 1069.5"/>
<path class="iso" d="M1468.7 142.5C1470 145.2 1474.9 152.2 1476.7 158.4C1478.5 164.6 1477.3 170.8 1479.3 179.7C1481.3 188.6 1485.3 200.1 1488.6 211.6C1491.9 223.1 1496 236.4 1499.3 248.8C1502.6 261.2 1506.4 273.2 1508.6 286C1510.8 298.8 1511.6 312.5 1512.5 325.8C1513.4 339.1 1513.5 352.4 1513.9 365.7C1514.3 379 1514.6 393.1 1514.7 405.5C1514.8 417.9 1515.3 403.2 1514.7 440C1514.1 476.8 1511.2 581.7 1511.2 626C1511.2 670.3 1513.4 683.4 1514.7 705.7C1516 728 1514.9 728.8 1519.2 760C1523.5 791.2 1531.3 848.5 1540.4 892.8C1549.5 937.1 1565.8 996.2 1573.6 1025.7C1581.3 1055.2 1584.7 1062.2 1586.9 1069.5"/>
<path class="iso" d="M1499.3 142.5C1500.2 145.2 1503.3 152.2 1504.6 158.4C1505.9 164.6 1505 170.8 1507.2 179.7C1509.4 188.6 1513.9 200.1 1517.9 211.6C1521.9 223.1 1527.1 236.4 1531.1 248.8C1535.1 261.2 1539.1 273.2 1541.8 286C1544.5 298.8 1545.5 312.5 1547.1 325.8C1548.6 339.1 1550 352.4 1551.1 365.7C1552.2 379 1553 393.1 1553.7 405.5C1554.4 417.9 1554.3 403.2 1555 440C1555.7 476.8 1556.4 581.7 1557.7 626C1559 670.3 1561 683.4 1563 705.7C1565 728 1563.9 728.8 1569.7 760C1575.5 791.2 1584.5 848.5 1597.6 892.8C1610.6 937.1 1636.1 996.2 1648 1025.7C1659.9 1055.2 1665.3 1062.2 1668.8 1069.5"/>
<path class="iso" d="M1533.8 142.5C1534.7 145.6 1538 154.9 1539.1 161.1C1540.2 167.3 1538.9 173 1540.4 179.7C1542 186.3 1544.2 191.2 1548.4 201C1552.6 210.8 1560.8 224.9 1565.7 238.2C1570.6 251.5 1574.1 266.1 1577.6 280.7C1581.1 295.3 1584.5 311.6 1586.9 325.8C1589.3 340 1590.4 352.4 1592.2 365.7C1594 379 1596.3 393.1 1597.6 405.5C1598.8 417.9 1597.7 403.2 1599.7 440C1601.7 476.8 1606.3 581.7 1609.5 626C1612.7 670.3 1615.7 683.4 1618.8 705.7C1621.9 728 1623.7 739.9 1628.1 760C1632.5 780.1 1638.1 804.3 1645.4 826.4C1652.7 848.5 1661.7 870.6 1671.9 892.8C1682.1 914.9 1695.4 940.7 1706.5 959.3C1717.6 977.9 1727.9 990.9 1738.4 1004.4C1748.9 1017.9 1764.5 1034.3 1769.7 1040.3"/>
<path class="iso" d="M1576.3 145.2C1577 148.3 1579.8 158.1 1580.3 163.8C1580.8 169.6 1577.9 173.5 1579 179.7C1580.1 185.9 1581.6 190.4 1586.9 201C1592.2 211.6 1605 230.2 1610.8 243.5C1616.6 256.8 1618 267 1621.5 280.7C1625 294.4 1629 311.6 1632.1 325.8C1635.2 340 1637.9 352.4 1640.1 365.7C1642.3 379 1644 393.1 1645.4 405.5C1646.8 417.9 1646.8 421 1648.6 440C1650.4 459 1652.3 489.6 1656 519.7C1659.7 549.8 1665.7 591.9 1670.6 620.7C1675.5 649.5 1678.5 669.2 1685.2 692.4C1691.9 715.6 1703.8 743.4 1710.5 760C1717.2 776.6 1718.2 779.5 1725.1 791.9C1731.9 804.3 1744.2 823.8 1751.6 834.4C1759 845 1766.7 852.1 1769.7 855.6"/>
<path class="iso" d="M1640.1 149.1C1640.9 152.4 1644.4 163.1 1644.8 169.1C1645.2 175.1 1641.7 179.2 1642.7 185C1643.7 190.8 1643.2 191.7 1650.7 203.6C1658.2 215.5 1679.9 242.1 1687.9 256.7C1695.9 271.3 1695 278.4 1698.5 291.3C1702 304.2 1705.5 319.2 1709.1 333.8C1712.6 348.4 1716.2 361.3 1719.8 379C1723.3 396.7 1726 418.8 1730.4 440C1734.8 461.2 1739.8 483.4 1746.3 506.4C1752.8 529.4 1765.8 566.2 1769.7 578.2"/>
<path class="iso" d="M1347.8 127.9C1348 130.6 1348.9 141.2 1349.1 143.8"/>
</g>
<polygon points="1275,946.5 1279.2,946.5 1275.5,974.5" fill="#c8ff00"/>
<rect x="266.5" y="549" width="1.5" height="4" fill="#ffe84a" opacity="0.8"/>
<rect x="295" y="1123" width="1475" height="44.5" fill="url(#cb)"/>
<rect x="295" y="1123" width="23.4" height="44.3" fill="#0000ff"/>
<rect x="318" y="1123" width="23.4" height="44.3" fill="#0001ff"/>
<rect x="341.1" y="1123" width="23.4" height="44.3" fill="#0002ff"/>
<rect x="364.1" y="1123" width="23.4" height="44.3" fill="#0003ff"/>
<rect x="387.2" y="1123" width="23.4" height="44.3" fill="#0004ff"/>
<rect x="410.2" y="1123" width="23.4" height="44.3" fill="#000cff"/>
<rect x="433.3" y="1123" width="23.4" height="44.3" fill="#0019ff"/>
<rect x="456.3" y="1123" width="23.4" height="44.3" fill="#002cff"/>
<rect x="479.4" y="1123" width="23.4" height="44.3" fill="#0041ff"/>
<rect x="502.4" y="1123" width="23.4" height="44.3" fill="#005cff"/>
<rect x="525.5" y="1123" width="23.4" height="44.3" fill="#0080ff"/>
<rect x="548.5" y="1123" width="23.4" height="44.3" fill="#009aff"/>
<rect x="571.6" y="1123" width="23.4" height="44.3" fill="#00b4ff"/>
<rect x="594.6" y="1123" width="23.4" height="44.3" fill="#00c2ff"/>
<rect x="617.7" y="1123" width="23.4" height="44.3" fill="#00ccff"/>
<rect x="640.7" y="1123" width="23.4" height="44.3" fill="#00d6ff"/>
<rect x="663.8" y="1123" width="23.4" height="44.3" fill="#00e4ff"/>
<rect x="686.8" y="1123" width="23.4" height="44.3" fill="#00f3ff"/>
<rect x="709.8" y="1123" width="23.4" height="44.3" fill="#00fffe"/>
<rect x="732.9" y="1123" width="23.4" height="44.3" fill="#00fff4"/>
<rect x="755.9" y="1123" width="23.4" height="44.3" fill="#00ffea"/>
<rect x="779" y="1123" width="23.4" height="44.3" fill="#00ffcf"/>
<rect x="802" y="1123" width="23.4" height="44.3" fill="#00ffb1"/>
<rect x="825.1" y="1123" width="23.4" height="44.3" fill="#00ff97"/>
<rect x="848.1" y="1123" width="23.4" height="44.3" fill="#00ff87"/>
<rect x="871.2" y="1123" width="23.4" height="44.3" fill="#00ff71"/>
<rect x="894.2" y="1123" width="23.4" height="44.3" fill="#00ff5b"/>
<rect x="917.3" y="1123" width="23.4" height="44.3" fill="#00ff46"/>
<rect x="940.3" y="1123" width="23.4" height="44.3" fill="#00ff13"/>
<rect x="963.4" y="1123" width="23.4" height="44.3" fill="#00ff00"/>
<rect x="986.4" y="1123" width="23.4" height="44.3" fill="#00ff00"/>
<rect x="1009.5" y="1123" width="23.4" height="44.3" fill="#00ff00"/>
<rect x="1032.5" y="1123" width="23.4" height="44.3" fill="#00ff00"/>
<rect x="1055.5" y="1123" width="23.4" height="44.3" fill="#00ff00"/>
<rect x="1078.6" y="1123" width="23.4" height="44.3" fill="#00ff00"/>
<rect x="1101.6" y="1123" width="23.4" height="44.3" fill="#00ff00"/>
<rect x="1124.7" y="1123" width="23.4" height="44.3" fill="#00ff00"/>
<rect x="1147.7" y="1123" width="23.4" height="44.3" fill="#00ff00"/>
<rect x="1170.8" y="1123" width="23.4" height="44.3" fill="#00ff00"/>
<rect x="1193.8" y="1123" width="23.4" height="44.3" fill="#00ff00"/>
<rect x="1216.9" y="1123" width="23.4" height="44.3" fill="#00ff00"/>
<rect x="1239.9" y="1123" width="23.4" height="44.3" fill="#00ff00"/>
<rect x="1263" y="1123" width="23.4" height="44.3" fill="#67ff00"/>
<rect x="1286" y="1123" width="23.4" height="44.3" fill="#9aff00"/>
<rect x="1309.1" y="1123" width="23.4" height="44.3" fill="#c0ff00"/>
<rect x="1332.1" y="1123" width="23.4" height="44.3" fill="#ccff00"/>
<rect x="1355.2" y="1123" width="23.4" height="44.3" fill="#d7fe00"/>
<rect x="1378.2" y="1123" width="23.4" height="44.3" fill="#e2fc00"/>
<rect x="1401.2" y="1123" width="23.4" height="44.3" fill="#edf800"/>
<rect x="1424.3" y="1123" width="23.4" height="44.3" fill="#f6f300"/>
<rect x="1447.3" y="1123" width="23.4" height="44.3" fill="#fff000"/>
<rect x="1470.4" y="1123" width="23.4" height="44.3" fill="#ffe300"/>
<rect x="1493.4" y="1123" width="23.4" height="44.3" fill="#ffd100"/>
<rect x="1516.5" y="1123" width="23.4" height="44.3" fill="#ffbb00"/>
<rect x="1539.5" y="1123" width="23.4" height="44.3" fill="#ffa500"/>
<rect x="1562.6" y="1123" width="23.4" height="44.3" fill="#ff9100"/>
<rect x="1585.6" y="1123" width="23.4" height="44.3" fill="#ff7e00"/>
<rect x="1608.7" y="1123" width="23.4" height="44.3" fill="#ff6b00"/>
<rect x="1631.7" y="1123" width="23.4" height="44.3" fill="#ff5900"/>
<rect x="1654.8" y="1123" width="23.4" height="44.3" fill="#ff4600"/>
<rect x="1677.8" y="1123" width="23.4" height="44.3" fill="#ff3100"/>
<rect x="1700.9" y="1123" width="23.4" height="44.3" fill="#ff1e00"/>
<rect x="1723.9" y="1123" width="23.4" height="44.3" fill="#ff0c00"/>
<rect x="1747" y="1123" width="23" height="44.3" fill="#ff0300"/>
<rect x="295" y="1167" width="74.3" height="43.6" fill="#0000ff"/>
<rect x="369" y="1167" width="147.8" height="43.6" fill="#0020ff"/>
<rect x="516.5" y="1167" width="147.6" height="43.6" fill="#00bfff"/>
<rect x="663.8" y="1167" width="147.7" height="43.6" fill="#00ffff"/>
<rect x="811.2" y="1167" width="147.6" height="43.6" fill="#00ff6e"/>
<rect x="958.5" y="1167" width="295.4" height="43.6" fill="#00ff00"/>
<rect x="1253.6" y="1167" width="148.1" height="43.6" fill="#c8ff00"/>
<rect x="1401.4" y="1167" width="147.7" height="43.6" fill="#ffec00"/>
<rect x="1548.8" y="1167" width="147.3" height="43.6" fill="#ff6000"/>
<rect x="1695.8" y="1167" width="74.5" height="43.6" fill="#ff0000"/>
<path d="M295 1210.6v14M344.2 1210.6v7.5M393.3 1210.6v7.5M442.5 1210.6v7.5M491.7 1210.6v7.5M540.8 1210.6v14M590 1210.6v7.5M639.2 1210.6v7.5M688.3 1210.6v7.5M737.5 1210.6v7.5M786.7 1210.6v14M835.8 1210.6v7.5M885 1210.6v7.5M934.2 1210.6v7.5M983.3 1210.6v7.5M1032.5 1210.6v14M1081.7 1210.6v7.5M1130.8 1210.6v7.5M1180 1210.6v7.5M1229.2 1210.6v7.5M1278.3 1210.6v14M1327.5 1210.6v7.5M1376.7 1210.6v7.5M1425.8 1210.6v7.5M1475 1210.6v7.5M1524.2 1210.6v14M1573.3 1210.6v7.5M1622.5 1210.6v7.5M1671.7 1210.6v7.5M1720.8 1210.6v7.5M1770 1210.6v14" stroke="#9aa0a8" stroke-width="0.9" fill="none"/>
<text class="t47" x="122.6" y="1272.8">1.10×10</text>
<text class="sup" x="292" y="1251.6">5</text>
<text class="t47" x="377.8" y="1272.8">1.15×10</text>
<text class="sup" x="546.2" y="1251.6">5</text>
<text class="t47" x="623.1" y="1272.8">1.20×10</text>
<text class="sup" x="791.5" y="1251.6">5</text>
<text class="t47" x="868.4" y="1272.8">1.25×10</text>
<text class="sup" x="1036.8" y="1251.6">5</text>
<text class="t47" x="1113.7" y="1272.8">1.30×10</text>
<text class="sup" x="1282.1" y="1251.6">5</text>
<text class="t47" x="1359" y="1272.8">1.35×10</text>
<text class="sup" x="1527.4" y="1251.6">5</text>
<text class="t47" x="1604.3" y="1272.8">1.40×10</text>
<text class="sup" x="1772.7" y="1251.6">5</text>
<path class="ell" pathLength="54" stroke-dasharray="0.31 0.69" stroke-dashoffset="0.15" d="M905 154.5A49.3 170.5 0 0 1 905 495.5A49.3 170.5 0 0 1 905 154.5Z"/>
<path class="ell" pathLength="54" stroke-dasharray="0.31 0.69" stroke-dashoffset="0.15" d="M1390.5 151A50 170.5 0 0 1 1390.5 492A50 170.5 0 0 1 1390.5 151Z"/>
<line class="arr" x1="266.5" y1="167" x2="326.4" y2="147.3" style="stroke-width:4.5"/>
<polygon points="350.6,139.3 328.8,160.9 320.2,134.9" fill="#000"/>
<line class="arr" x1="470" y1="776" x2="348.4" y2="655.8" style="stroke-width:4.4"/>
<polygon points="330.3,637.9 359,648 340.7,666.5" fill="#000"/>
<line class="arr" x1="1100" y1="481" x2="977.2" y2="358.2" style="stroke-width:4.4"/>
<polygon points="958.8,339.8 987.8,350.4 969.4,368.8" fill="#000"/>
<line class="arr" x1="1585.5" y1="477" x2="1462.9" y2="354.9" style="stroke-width:4.4"/>
<polygon points="1444.5,336.5 1473.5,347.1 1455.2,365.5" fill="#000"/>
<line class="arr" x1="356" y1="1069.6" x2="314.5" y2="1069.6" style="stroke-width:4.6"/>
<polygon points="289,1069.6 316.5,1055.8 316.5,1083.3" fill="#000"/>
<rect class="box" x="455" y="65.8" width="218" height="73.9"/>
<text class="t57" x="564.4" y="120.5" text-anchor="middle">0 step</text>
<rect class="box" x="947.8" y="65.8" width="218" height="73.9"/>
<text class="t57" x="1057" y="120.5" text-anchor="middle">5 step</text>
<rect class="box" x="1464.6" y="65.8" width="218" height="73.9"/>
<text class="t57" x="1575" y="120.5" text-anchor="middle">15 step</text>
<rect class="box" x="356.6" y="777.5" width="236.6" height="109.7"/>
<text class="t57" x="474.4" y="821.1" text-anchor="middle">Suction</text>
<text class="t57" x="474.6" y="865.7" text-anchor="middle">surface</text>
<rect class="box" x="356.6" y="1005.5" width="290.5" height="64.1"/>
<text class="t57" x="495.7" y="1054.9" text-anchor="middle">60% span</text>
<rect class="box" x="976.7" y="483.9" width="254.1" height="74.3"/>
<text class="t57" x="1103" y="538.8" text-anchor="middle">Increase</text>
<rect class="box" x="1471.4" y="483.9" width="236.1" height="118.6"/>
<text class="t57" x="1589.8" y="531.7" text-anchor="middle">Slightly</text>
<text class="t57" x="1589.2" y="582.1" text-anchor="middle">decline</text>
<text class="t57" x="167.6" y="158.8" text-anchor="start">Tip</text>
<text class="t57" x="166.8" y="227" text-anchor="start">clearance</text>
<text class="t57" x="169.3" y="1069.5" text-anchor="middle">Static</text>
<text class="t57" x="168.8" y="1139.1" text-anchor="middle">pressure</text>
<text class="t57" x="169.6" y="1208" text-anchor="middle">(Pa)</text>
</svg>
</body></html>
